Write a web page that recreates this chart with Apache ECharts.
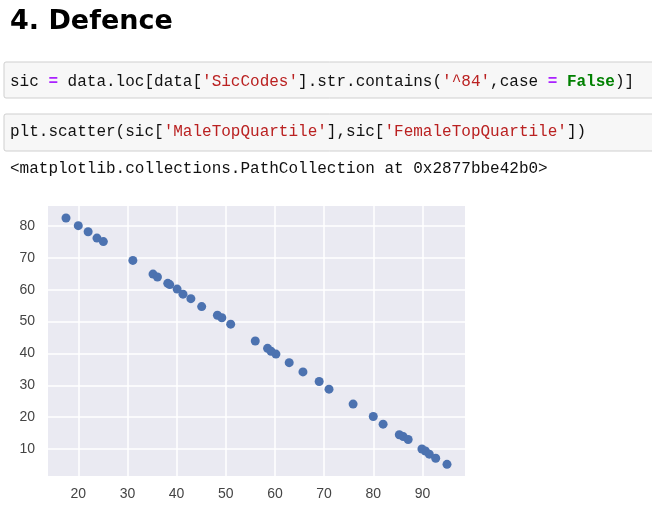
<!DOCTYPE html>
<html>
<head>
<meta charset="utf-8">
<script src="https://cdn.jsdelivr.net/npm/echarts@6/dist/echarts.min.js"></script>
<style>
html,body{margin:0;padding:0;background:#fff;}
#chart{width:652px;height:521px;}
</style>
</head>
<body>
<div id="chart"></div>
<script>
// Data
var maleTopQuartile = [17.5, 20.0, 22.0, 23.8, 25.1, 31.1, 35.2, 36.1, 38.2, 38.6, 40.1, 41.3, 42.9, 45.1, 48.3, 49.2, 51.0, 56.0, 58.5, 59.2, 60.2, 62.9, 65.7, 69.0, 71.0, 75.9, 80.0, 82.0, 85.3, 86.1, 87.1, 89.9, 90.6, 91.4, 92.7, 95.0];
var femaleTopQuartile = [82.5, 80.1, 78.2, 76.2, 75.1, 69.2, 64.9, 64.0, 62.0, 61.6, 60.2, 58.6, 57.2, 54.7, 52.0, 51.2, 49.2, 43.9, 41.6, 40.7, 39.8, 37.1, 34.2, 31.2, 28.8, 24.1, 20.2, 17.8, 14.5, 13.9, 13.0, 10.0, 9.4, 8.4, 7.1, 5.2];
var xTicks = [20, 30, 40, 50, 60, 70, 80, 90];
var yTicks = [10, 20, 30, 40, 50, 60, 70, 80];
var xRange = [13.84, 98.66];
var yRange = [1.54, 86.27];

var points = maleTopQuartile.map(function (m, i) { return [m, femaleTopQuartile[i]]; });

var mono = '"Liberation Mono", "DejaVu Sans Mono", monospace';
var codeRich = {
  d: { fontFamily: mono, fontSize: 16, fill: '#111' },
  op: { fontFamily: mono, fontSize: 16, fill: '#aa22ff', fontWeight: 'bold' },
  s: { fontFamily: mono, fontSize: 16, fill: '#ba2121' },
  k: { fontFamily: mono, fontSize: 16, fill: '#008000', fontWeight: 'bold' }
};

var chart = echarts.init(document.getElementById('chart'), null, { renderer: 'canvas' });
chart.setOption({
  backgroundColor: '#ffffff',
  animation: false,
  graphic: [
    { type: 'text', left: 10, top: 8, z: 10,
      style: { text: '4. Defence', fontFamily: '"DejaVu Sans", sans-serif', fontWeight: 'bold', fontSize: 27, fill: '#000' } },
    { type: 'rect', shape: { x: 4, y: 62, width: 700, height: 36, r: 2 }, z: 1,
      style: { fill: '#f7f7f7', stroke: '#cfcfcf', lineWidth: 1 } },
    { type: 'rect', shape: { x: 4, y: 114, width: 700, height: 37, r: 2 }, z: 1,
      style: { fill: '#f7f7f7', stroke: '#cfcfcf', lineWidth: 1 } },
    { type: 'text', x: 10, y: 81.8, z: 10,
      style: { text: "{d|sic }{op|=}{d| data.loc[data[}{s|'SicCodes'}{d|].str.contains(}{s|'^84'}{d|,case }{op|=}{d| }{k|False}{d|)]}",
        rich: codeRich, verticalAlign: 'middle', align: 'left' } },
    { type: 'text', x: 10, y: 132.2, z: 10,
      style: { text: "{d|plt.scatter(sic[}{s|'MaleTopQuartile'}{d|],sic[}{s|'FemaleTopQuartile'}{d|])}",
        rich: codeRich, verticalAlign: 'middle', align: 'left' } },
    { type: 'text', x: 10, y: 168.5, z: 10,
      style: { text: '<matplotlib.collections.PathCollection at 0x2877bbe42b0>',
        fontFamily: mono, fontSize: 16, fill: '#111', verticalAlign: 'middle', align: 'left' } }
  ],
  grid: {
    left: 48, top: 206, right: 187, bottom: 45,
    show: true, backgroundColor: '#eaeaf2', borderWidth: 0
  },
  xAxis: {
    type: 'value', min: xRange[0], max: xRange[1],
    axisLine: { show: false },
    axisTick: { show: false, customValues: xTicks },
    axisLabel: { customValues: xTicks, margin: 11, color: '#444', fontSize: 14, fontFamily: '"Liberation Sans", Arial, sans-serif' },
    splitLine: { show: true, lineStyle: { color: '#ffffff', width: 1.5 } }
  },
  yAxis: {
    type: 'value', min: yRange[0], max: yRange[1],
    axisLine: { show: false },
    axisTick: { show: false, customValues: yTicks },
    axisLabel: { customValues: yTicks, margin: 13, color: '#444', fontSize: 14, fontFamily: '"Liberation Sans", Arial, sans-serif' },
    splitLine: { show: true, lineStyle: { color: '#ffffff', width: 1.5 } }
  },
  series: [{
    type: 'scatter',
    data: points,
    symbol: 'circle',
    symbolSize: 9,
    itemStyle: { color: '#4c72b0', opacity: 1 }
  }]
});
</script>
</body>
</html>
